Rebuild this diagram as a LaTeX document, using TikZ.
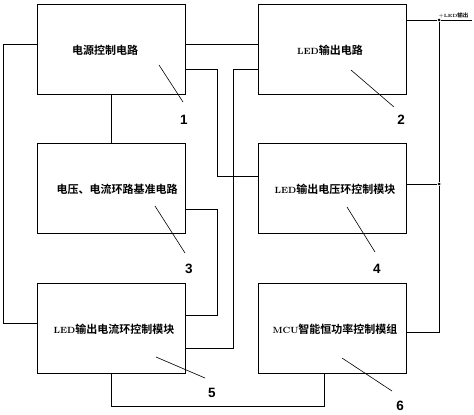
\documentclass[tikz,border=0pt]{standalone}
\usepackage{fontspec}
\newfontfamily\cjk{Noto Sans CJK SC Bold}
\newfontfamily\numfont{Liberation Sans}
\usetikzlibrary{calc}

\newcommand{\latin}[1]{{\bfseries\fontsize{9}{11}\selectfont #1}}

\tikzset{
  blockbox/.style={draw, line width=0.8pt, minimum width=148pt, minimum height=90pt, inner sep=0pt},
  blocktext/.style={inner sep=0.75pt, font=\fontsize{11}{13}\selectfont},
  numlabel/.style={inner sep=0pt, font=\numfont\bfseries\fontsize{13.5}{15}\selectfont},
  wire/.style={line width=0.8pt},
  junction/.style={circle, fill, inner sep=0pt, minimum size=3pt}
}

\begin{document}
\begin{tikzpicture}[x=1pt,y=1pt,yscale=-1,xscale=1]
\useasboundingbox (0,0) rectangle (474,415);

%Shape: Rectangle [power control]
\node [blockbox] (b1) at (111,49) {};
%Shape: Rectangle [LED output]
\node [blockbox] (b2) at (332,49) {};
%Shape: Rectangle [reference]
\node [blockbox] (b3) at (111,188) {};
%Shape: Rectangle [voltage loop]
\node [blockbox] (b4) at (332,188) {};
%Shape: Rectangle [current loop]
\node [blockbox] (b5) at (111,328) {};
%Shape: Rectangle [MCU]
\node [blockbox] (b6) at (332,328) {};

% Text Node
\node [blocktext] (t1) at (105,50) {\cjk 电源控制电路};
% Text Node
\node [blocktext] (t2) at (330,50) {\latin{LED}\cjk 输出电路};
% Text Node
\node [blocktext] (t3) at (117,189) {\cjk 电压、电流环路基准电路};
% Text Node
\node [blocktext] (t4) at (335,189) {\latin{LED}\cjk 输出电压环控制模块};
% Text Node
\node [blocktext] (t5) at (114,329) {\latin{LED}\cjk 输出电流环控制模块};
% Text Node
\node [blocktext] (t6) at (335,329) {\latin{MCU}\cjk 智能恒功率控制模组};

% Junctions
\coordinate (out) at (472,20);
\node [junction] (j1) at (439,20) {};
\node [junction] (j2) at (439,184) {};
% Text Node
\node [anchor=south west, inner sep=0.5pt, font=\fontsize{5.5}{6}\selectfont] (outlabel) at (438,19) {+{\bfseries\fontsize{4.5}{5}\selectfont LED}\cjk 输出};

% Connection
\draw [wire] ([yshift=-5pt]b1.west) -- ++(-33,0) |- ([yshift=-5pt]b5.west);
% Connection
\draw [wire] ([yshift=-5pt]b1.east) -- ([yshift=-5pt]b2.west);
% Connection
\draw [wire] ([yshift=20pt]b1.east) -- ++(32,0) |- ([yshift=-12pt]b4.west);
% Connection
\draw [wire] (b1.south) -- (b3.north);
% Connection
\draw [wire] ([yshift=20pt]b2.west) -- ++(-24,0) |- ([yshift=20pt]b5.east);
% Connection
\draw [wire] ([yshift=21pt]b3.east) -- ++(32,0) |- ([yshift=-13pt]b5.east);
% Connection
\draw [wire] (b5.south) -- ++(0,33) -| ([xshift=-8pt]b6.south);
% Connection
\draw [wire] ([yshift=-29pt]b2.east) -- (j1) -- (out);
\draw [wire] (j1) -- (j2) |- ([yshift=4pt]b6.east);
\draw [wire] ([yshift=-4pt]b4.east) -- (j2);

% Leader lines and numbers
\node [numlabel] (n1) at (184,120) {1};
\draw [line width=0.6pt] (159,65) -- (183,102);
\node [numlabel] (n2) at (401,120) {2};
\draw [line width=0.6pt] (351,70) -- (394,107);
\node [numlabel] (n3) at (189,269) {3};
\draw [line width=0.6pt] (155,206) -- (185,253);
\node [numlabel] (n4) at (377,269) {4};
\draw [line width=0.6pt] (347,207) -- (375,252);
\node [numlabel] (n5) at (212,393) {5};
\draw [line width=0.6pt] (156,357) -- (205,378);
\node [numlabel] (n6) at (400,406) {6};
\draw [line width=0.6pt] (342,358) -- (392,391);

\end{tikzpicture}
\end{document}
